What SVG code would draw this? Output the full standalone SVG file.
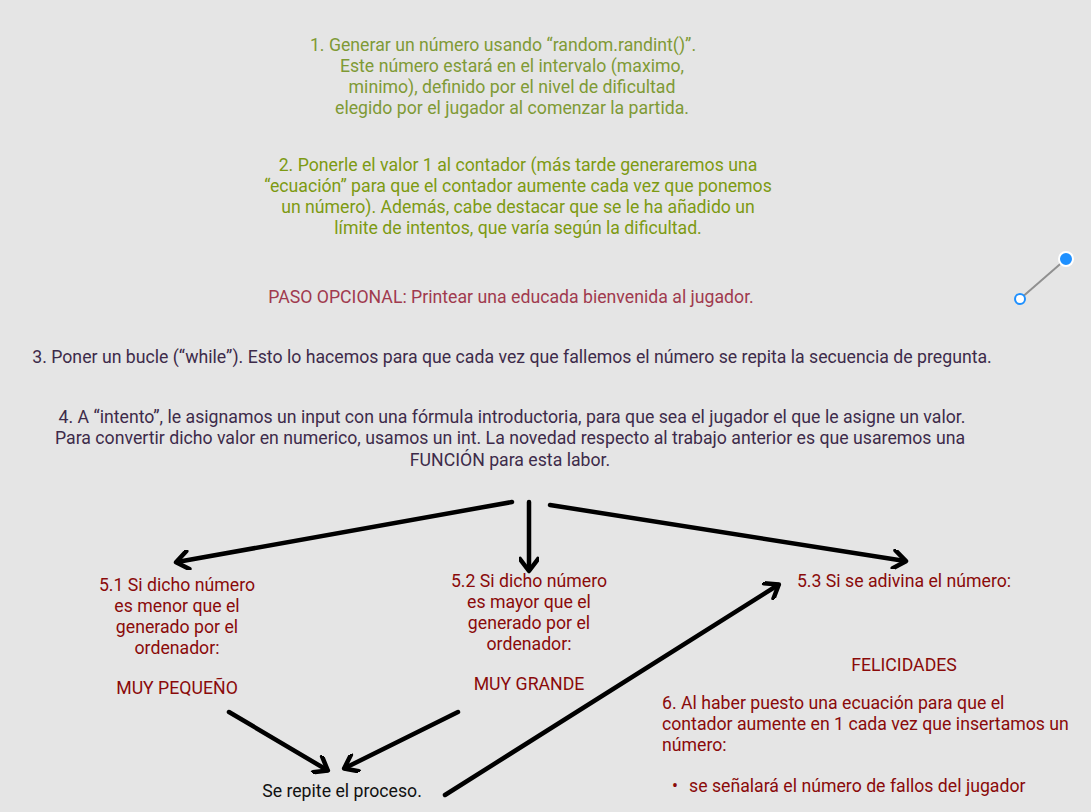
<svg xmlns="http://www.w3.org/2000/svg" width="1091" height="812" viewBox="0 0 1091 812">
<style>
text{font-family:Roboto,"Liberation Sans",sans-serif;font-size:17.7px;text-anchor:middle}
.g1{fill:#7f9a35}.g2{fill:#7d9a12}.op{fill:#a03a4e}.pu{fill:#3d2b4a}.rd{fill:#8a0a0a}.bk{fill:#111}
.l{text-anchor:start}
.a{stroke:#000;stroke-width:4.5;fill:none;stroke-linecap:round;stroke-linejoin:round}
</style>
<defs><marker id="h" viewBox="0 0 20 20" refX="14" refY="10" markerWidth="20" markerHeight="20" markerUnits="userSpaceOnUse" orient="auto"><path d="M3,1 L15,10 L3,19" fill="none" stroke="#000" stroke-width="4.5" stroke-linecap="round" stroke-linejoin="round"/></marker></defs>
<rect width="1091" height="812" fill="#e5e5e5"/>
<g id="n1" class="g1"><text x="503" y="51">1. Generar un número usando “random.randint()”.</text><text x="512" y="72">Este número estará en el intervalo (maximo,</text><text x="512" y="93">minimo), definido por el nivel de dificultad</text><text x="512" y="114">elegido por el jugador al comenzar la partida.</text></g>
<g id="n2" class="g2"><text x="518" y="171">2. Ponerle el valor 1 al contador (más tarde generaremos una</text><text x="518" y="192">“ecuación” para que el contador aumente cada vez que ponemos</text><text x="518" y="213">un número). Además, cabe destacar que se le ha añadido un</text><text x="518" y="234">límite de intentos, que varía según la dificultad.</text></g>
<g id="op" class="op"><text x="511" y="303">PASO OPCIONAL: Printear una educada bienvenida al jugador.</text></g>
<g id="n3" class="pu"><text x="512" y="363">3. Poner un bucle (“while”). Esto lo hacemos para que cada vez que fallemos el número se repita la secuencia de pregunta.</text></g>
<g id="n4" class="pu"><text x="512" y="423">4. A “intento”,  le asignamos un input con una fórmula introductoria, para que sea el jugador el que le asigne un valor.</text><text x="510" y="444">Para convertir dicho valor en numerico, usamos un int. La novedad respecto al trabajo anterior es que usaremos una</text><text x="510" y="466">FUNCIÓN para esta labor.</text></g>
<g id="n51" class="rd"><text x="177" y="591">5.1 Si dicho número</text><text x="177" y="612">es menor que el</text><text x="177" y="633">generado por el</text><text x="177" y="654">ordenador:</text><text x="177" y="694">MUY PEQUEÑO</text></g>
<g id="n52" class="rd"><text x="529" y="587">5.2 Si dicho número</text><text x="529" y="608">es mayor que el</text><text x="529" y="629">generado por el</text><text x="529" y="650">ordenador:</text><text x="529" y="690">MUY GRANDE</text></g>
<g id="n53" class="rd"><text x="904" y="587">5.3 Si se adivina el número:</text><text x="904" y="671">FELICIDADES</text></g>
<g id="n6" class="rd"><text x="662" y="709" class="l">6. Al haber puesto una ecuación para que el</text><text x="662" y="730" class="l">contador aumente en 1 cada vez que insertamos un</text><text x="662" y="751" class="l">número:</text><text x="672" y="792" class="l">•</text><text x="689" y="792" class="l">se señalará el número de fallos del jugador</text></g>
<g id="rep" class="bk"><text x="342" y="797">Se repite el proceso.</text></g>
<g id="handle"><line x1="1020" y1="299" x2="1066" y2="259" stroke="#909090" stroke-width="2"/><circle cx="1066" cy="259" r="7" fill="#1e90ff" stroke="#fff" stroke-width="2"/><circle cx="1020" cy="299" r="5" fill="#fff" stroke="#1e90ff" stroke-width="2"/></g>
<g id="connectors" class="a">
<path d="M512,502 L177,562" marker-end="url(#h)"/>
<path d="M529,502 L529,570" marker-end="url(#h)"/>
<path d="M550,505 L905,561" marker-end="url(#h)"/>
<path d="M229,712 L327,770" marker-end="url(#h)"/>
<path d="M458,712 L345,768" marker-end="url(#h)"/>
<path d="M445,795 L778,585" marker-end="url(#h)"/>
</g>
</svg>
